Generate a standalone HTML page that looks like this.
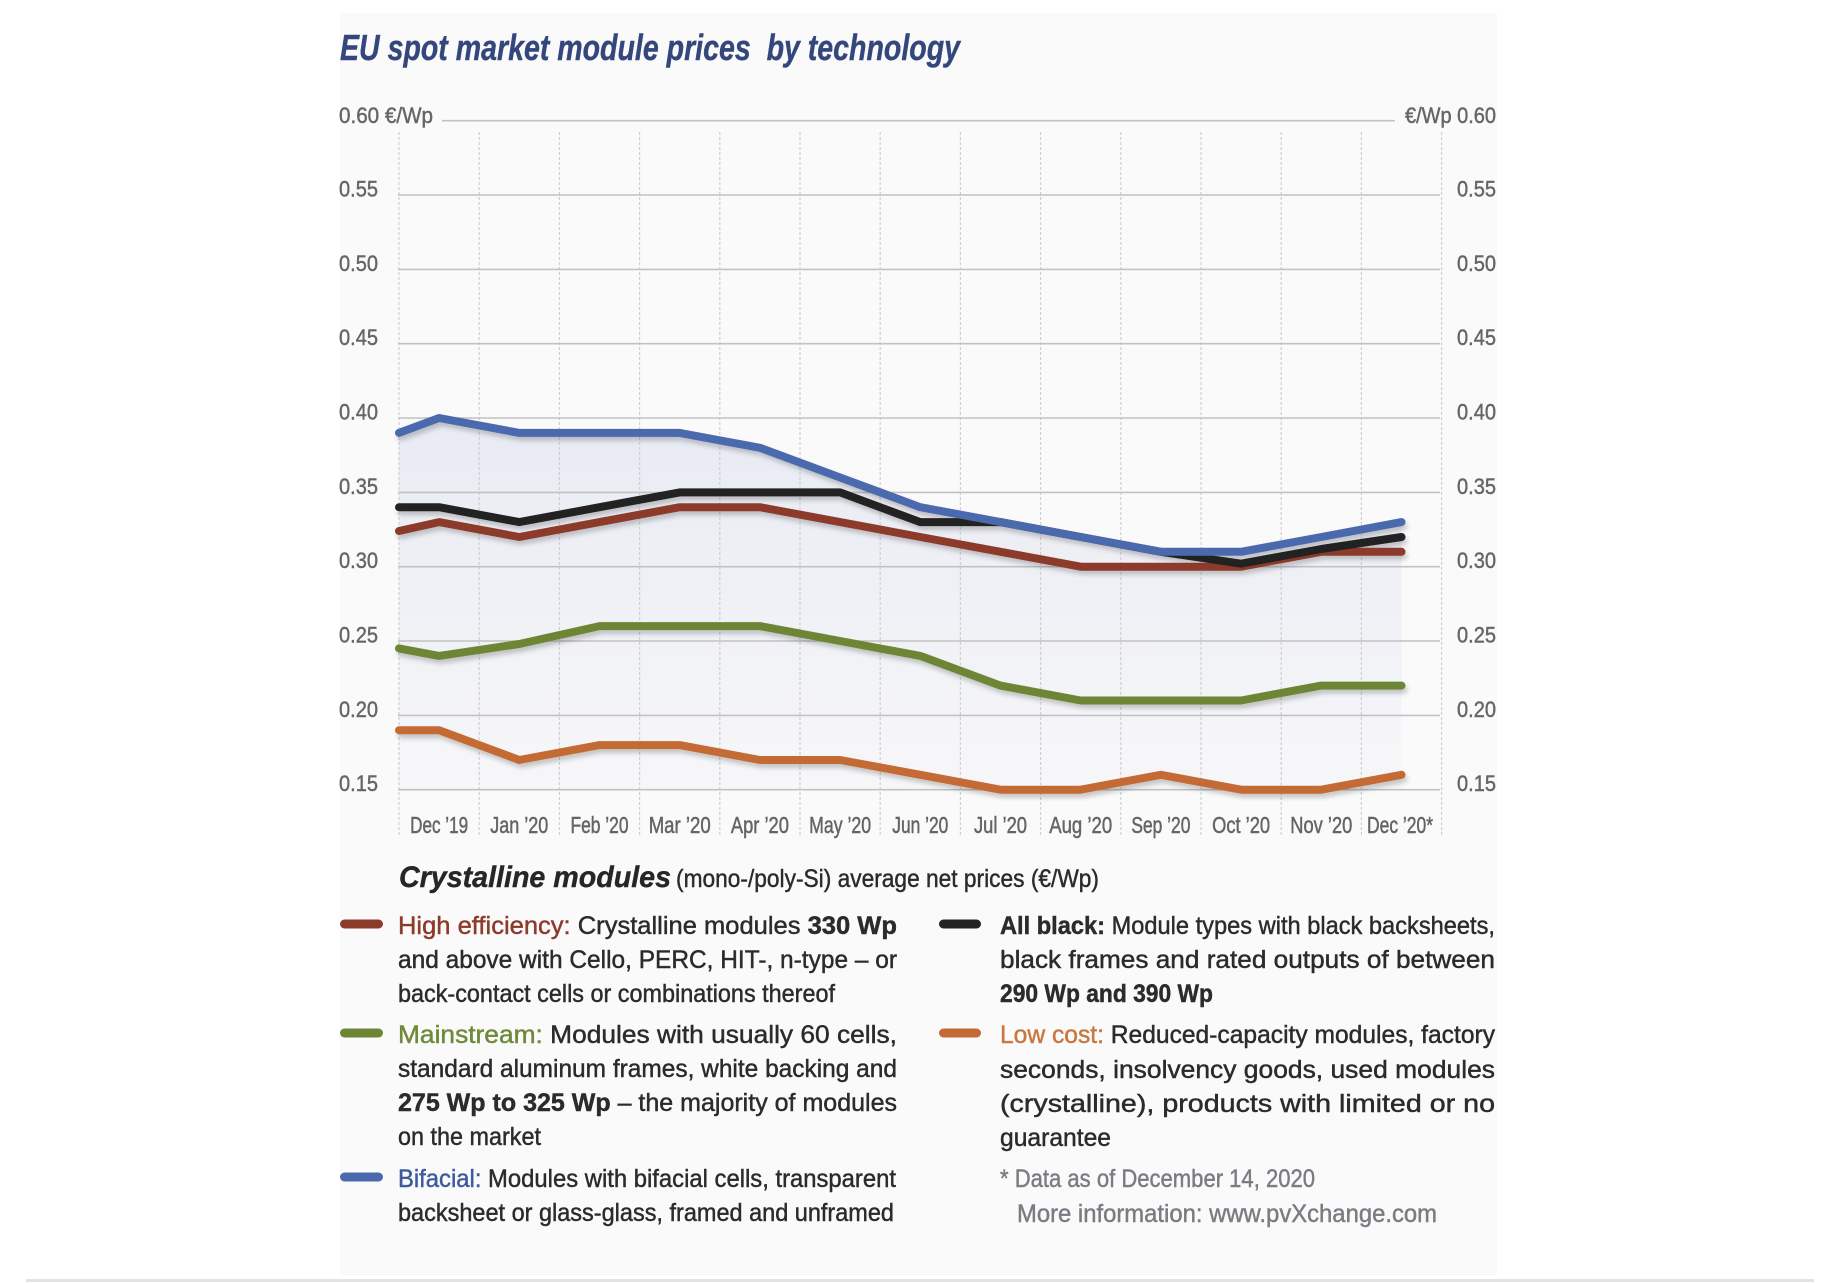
<!DOCTYPE html>
<html>
<head>
<meta charset="utf-8">
<style>
html,body{margin:0;padding:0;background:#fff;}
svg{display:block;}
text{font-family:"Liberation Sans",Arial,sans-serif;}
</style>
</head>
<body>
<svg width="1840" height="1284" viewBox="0 0 1840 1284" xmlns="http://www.w3.org/2000/svg">
<defs>
  <linearGradient id="fg" x1="0" y1="418" x2="0" y2="790" gradientUnits="userSpaceOnUse">
    <stop offset="0" stop-color="#e8ebf3"/>
    <stop offset="1" stop-color="#f7f7f9"/>
  </linearGradient>
  <filter id="sh" x="-5%" y="-60%" width="110%" height="220%">
    <feDropShadow dx="2" dy="4" stdDeviation="2.5" flood-color="#000" flood-opacity="0.2"/>
  </filter>
</defs>

<!-- panel -->
<rect x="340" y="13" width="1157" height="1262" fill="#fafafa"/>

<!-- title -->
<text x="340" y="60" font-size="36" font-weight="bold" font-style="italic" fill="#34477d" stroke="#34477d" stroke-width="0.4" textLength="620" lengthAdjust="spacingAndGlyphs">EU spot market module prices&#160; by technology</text>

<!-- area fill under bifacial -->
<polygon fill="url(#fg)" points="399,432.9 439.1,418 519.3,432.9 599.5,432.9 679.7,432.9 759.9,447.8 840.1,477.5 920.3,507.2 1000.5,522.1 1080.7,537 1160.9,551.8 1241.1,551.8 1321.3,537 1401.5,522.1 1401.5,789.7 399,789.7"/>

<!-- vertical dashed grid -->
<g stroke="#cfcfcf" stroke-width="1.2" stroke-dasharray="3 2">
  <line x1="399" y1="132" x2="399" y2="836"/>
  <line x1="479.2" y1="132" x2="479.2" y2="836"/>
  <line x1="559.4" y1="132" x2="559.4" y2="836"/>
  <line x1="639.6" y1="132" x2="639.6" y2="836"/>
  <line x1="719.8" y1="132" x2="719.8" y2="836"/>
  <line x1="800" y1="132" x2="800" y2="836"/>
  <line x1="880.2" y1="132" x2="880.2" y2="836"/>
  <line x1="960.4" y1="132" x2="960.4" y2="836"/>
  <line x1="1040.6" y1="132" x2="1040.6" y2="836"/>
  <line x1="1120.8" y1="132" x2="1120.8" y2="836"/>
  <line x1="1201" y1="132" x2="1201" y2="836"/>
  <line x1="1281.2" y1="132" x2="1281.2" y2="836"/>
  <line x1="1361.4" y1="132" x2="1361.4" y2="836"/>
  <line x1="1441.6" y1="132" x2="1441.6" y2="836"/>
</g>

<!-- horizontal grid -->
<g stroke="#c2c2c2" stroke-width="1.6">
  <line x1="442" y1="120.7" x2="1395" y2="120.7"/>
  <line x1="398" y1="195" x2="1440" y2="195"/>
  <line x1="398" y1="269.4" x2="1440" y2="269.4"/>
  <line x1="398" y1="343.7" x2="1440" y2="343.7"/>
  <line x1="398" y1="418" x2="1440" y2="418"/>
  <line x1="398" y1="492.4" x2="1440" y2="492.4"/>
  <line x1="398" y1="566.7" x2="1440" y2="566.7"/>
  <line x1="398" y1="641" x2="1440" y2="641"/>
  <line x1="398" y1="715.4" x2="1440" y2="715.4"/>
  <line x1="398" y1="789.7" x2="1440" y2="789.7"/>
</g>

<!-- y labels left -->
<g font-size="22" fill="#666" stroke="#666" stroke-width="0.45">
  <text x="339" y="123" textLength="94" lengthAdjust="spacingAndGlyphs">0.60 €/Wp</text>
  <text x="339" y="196.5" textLength="39" lengthAdjust="spacingAndGlyphs">0.55</text>
  <text x="339" y="270.9" textLength="39" lengthAdjust="spacingAndGlyphs">0.50</text>
  <text x="339" y="345.2" textLength="39" lengthAdjust="spacingAndGlyphs">0.45</text>
  <text x="339" y="419.5" textLength="39" lengthAdjust="spacingAndGlyphs">0.40</text>
  <text x="339" y="493.9" textLength="39" lengthAdjust="spacingAndGlyphs">0.35</text>
  <text x="339" y="568.2" textLength="39" lengthAdjust="spacingAndGlyphs">0.30</text>
  <text x="339" y="642.5" textLength="39" lengthAdjust="spacingAndGlyphs">0.25</text>
  <text x="339" y="716.9" textLength="39" lengthAdjust="spacingAndGlyphs">0.20</text>
  <text x="339" y="791.2" textLength="39" lengthAdjust="spacingAndGlyphs">0.15</text>
</g>
<!-- y labels right -->
<g font-size="22" fill="#666" stroke="#666" stroke-width="0.45">
  <text x="1405" y="123" textLength="91" lengthAdjust="spacingAndGlyphs">€/Wp 0.60</text>
  <text x="1457" y="196.5" textLength="39" lengthAdjust="spacingAndGlyphs">0.55</text>
  <text x="1457" y="270.9" textLength="39" lengthAdjust="spacingAndGlyphs">0.50</text>
  <text x="1457" y="345.2" textLength="39" lengthAdjust="spacingAndGlyphs">0.45</text>
  <text x="1457" y="419.5" textLength="39" lengthAdjust="spacingAndGlyphs">0.40</text>
  <text x="1457" y="493.9" textLength="39" lengthAdjust="spacingAndGlyphs">0.35</text>
  <text x="1457" y="568.2" textLength="39" lengthAdjust="spacingAndGlyphs">0.30</text>
  <text x="1457" y="642.5" textLength="39" lengthAdjust="spacingAndGlyphs">0.25</text>
  <text x="1457" y="716.9" textLength="39" lengthAdjust="spacingAndGlyphs">0.20</text>
  <text x="1457" y="791.2" textLength="39" lengthAdjust="spacingAndGlyphs">0.15</text>
</g>

<!-- x labels -->
<g font-size="23" fill="#656565" stroke="#656565" stroke-width="0.5">
  <text x="410.1" y="833" textLength="58" lengthAdjust="spacingAndGlyphs">Dec ’19</text>
  <text x="490.3" y="833" textLength="58" lengthAdjust="spacingAndGlyphs">Jan ’20</text>
  <text x="570.5" y="833" textLength="58" lengthAdjust="spacingAndGlyphs">Feb ’20</text>
  <text x="648.7" y="833" textLength="62" lengthAdjust="spacingAndGlyphs">Mar ’20</text>
  <text x="730.9" y="833" textLength="58" lengthAdjust="spacingAndGlyphs">Apr ’20</text>
  <text x="809.1" y="833" textLength="62" lengthAdjust="spacingAndGlyphs">May ’20</text>
  <text x="892.3" y="833" textLength="56" lengthAdjust="spacingAndGlyphs">Jun ’20</text>
  <text x="974" y="833" textLength="53" lengthAdjust="spacingAndGlyphs">Jul ’20</text>
  <text x="1049.2" y="833" textLength="63" lengthAdjust="spacingAndGlyphs">Aug ’20</text>
  <text x="1131.4" y="833" textLength="59" lengthAdjust="spacingAndGlyphs">Sep ’20</text>
  <text x="1212.1" y="833" textLength="58" lengthAdjust="spacingAndGlyphs">Oct ’20</text>
  <text x="1290.3" y="833" textLength="62" lengthAdjust="spacingAndGlyphs">Nov ’20</text>
  <text x="1367" y="833" textLength="66" lengthAdjust="spacingAndGlyphs">Dec ’20*</text>
</g>

<!-- series -->
<g fill="none" stroke-width="8" stroke-linejoin="round" stroke-linecap="round" filter="url(#sh)">
  <polyline stroke="#c46a35" points="399,730.2 439.1,730.2 519.3,760 599.5,745.1 679.7,745.1 759.9,760 840.1,760 920.3,774.8 1000.5,789.7 1080.7,789.7 1160.9,774.8 1241.1,789.7 1321.3,789.7 1401.5,774.8"/>
  <polyline stroke="#6c8635" points="399,648.4 439.1,655.9 519.3,644 599.5,626.1 679.7,626.1 759.9,626.1 840.1,641 920.3,655.9 1000.5,685.6 1080.7,700.5 1160.9,700.5 1241.1,700.5 1321.3,685.6 1401.5,685.6"/>
  <polyline stroke="#8c3b2b" points="399,531 439.1,522.1 519.3,537 599.5,522.1 679.7,507.2 759.9,507.2 840.1,522.1 920.3,537 1000.5,551.8 1080.7,566.7 1160.9,566.7 1241.1,566.7 1321.3,551.8 1401.5,551.8"/>
  <polyline stroke="#232323" points="399,507.2 439.1,507.2 519.3,522.1 599.5,507.2 679.7,492.4 759.9,492.4 840.1,492.4 920.3,522.1 1000.5,522.1 1080.7,537 1160.9,551.8 1241.1,563.7 1321.3,549 1401.5,537"/>
  <polyline stroke="#4c69ad" points="399,432.9 439.1,418 519.3,432.9 599.5,432.9 679.7,432.9 759.9,447.8 840.1,477.5 920.3,507.2 1000.5,522.1 1080.7,537 1160.9,551.8 1241.1,551.8 1321.3,537 1401.5,522.1"/>
</g>

<!-- legend header -->
<text x="399" y="887" font-size="30" font-weight="bold" font-style="italic" fill="#262626" stroke="#262626" stroke-width="0.4" textLength="272" lengthAdjust="spacingAndGlyphs">Crystalline modules</text>
<text x="676" y="887" font-size="25" fill="#2b2b2b" stroke="#2b2b2b" stroke-width="0.45" textLength="423" lengthAdjust="spacingAndGlyphs">(mono-/poly-Si) average net prices (€/Wp)</text>

<!-- legend swatches -->
<rect x="340" y="919.5" width="43" height="9" rx="4.5" fill="#8c3b2b"/>
<rect x="340" y="1028.5" width="43" height="9" rx="4.5" fill="#6c8635"/>
<rect x="340" y="1172.5" width="43" height="9" rx="4.5" fill="#4c69ad"/>
<rect x="939" y="919.5" width="42" height="9" rx="4.5" fill="#232323"/>
<rect x="939" y="1028.5" width="42" height="9" rx="4.5" fill="#c46a35"/>

<!-- legend left column -->
<g font-size="25" fill="#2b2b2b" stroke="#2b2b2b" stroke-width="0.45">
  <text x="398" y="934" textLength="499" lengthAdjust="spacingAndGlyphs"><tspan fill="#8c3b2b" stroke="#8c3b2b">High efficiency:</tspan> Crystalline modules <tspan font-weight="bold">330 Wp</tspan></text>
  <text x="398" y="968" textLength="499" lengthAdjust="spacingAndGlyphs">and above with Cello, PERC, HIT-, n-type – or</text>
  <text x="398" y="1002" textLength="437" lengthAdjust="spacingAndGlyphs">back-contact cells or combinations thereof</text>
  <text x="398" y="1043" textLength="499" lengthAdjust="spacingAndGlyphs"><tspan fill="#6f8a3a" stroke="#6f8a3a">Mainstream:</tspan> Modules with usually 60 cells,</text>
  <text x="398" y="1077" textLength="499" lengthAdjust="spacingAndGlyphs">standard aluminum frames, white backing and</text>
  <text x="398" y="1111" textLength="499" lengthAdjust="spacingAndGlyphs"><tspan font-weight="bold">275 Wp to 325 Wp</tspan> – the majority of modules</text>
  <text x="398" y="1145" textLength="143" lengthAdjust="spacingAndGlyphs">on the market</text>
  <text x="398" y="1187" textLength="498" lengthAdjust="spacingAndGlyphs"><tspan fill="#3e5a9e" stroke="#3e5a9e">Bifacial:</tspan> Modules with bifacial cells, transparent</text>
  <text x="398" y="1221" textLength="496" lengthAdjust="spacingAndGlyphs">backsheet or glass-glass, framed and unframed</text>
</g>

<!-- legend right column -->
<g font-size="25" fill="#2b2b2b" stroke="#2b2b2b" stroke-width="0.45">
  <text x="1000" y="934" textLength="495" lengthAdjust="spacingAndGlyphs"><tspan font-weight="bold">All black:</tspan> Module types with black backsheets,</text>
  <text x="1000" y="968" textLength="495" lengthAdjust="spacingAndGlyphs">black frames and rated outputs of between</text>
  <text x="1000" y="1002" font-weight="bold" textLength="213" lengthAdjust="spacingAndGlyphs">290 Wp and 390 Wp</text>
  <text x="1000" y="1043" textLength="495" lengthAdjust="spacingAndGlyphs"><tspan fill="#c8773f" stroke="#c8773f">Low cost:</tspan> Reduced-capacity modules, factory</text>
  <text x="1000" y="1078" textLength="495" lengthAdjust="spacingAndGlyphs">seconds, insolvency goods, used modules</text>
  <text x="1000" y="1112" textLength="495" lengthAdjust="spacingAndGlyphs">(crystalline), products with limited or no</text>
  <text x="1000" y="1146" textLength="111" lengthAdjust="spacingAndGlyphs">guarantee</text>
  <text x="1000" y="1187" fill="#7a7c82" stroke="#7a7c82" textLength="315" lengthAdjust="spacingAndGlyphs">* Data as of December 14, 2020</text>
  <text x="1017" y="1222" fill="#7a7c82" stroke="#7a7c82" textLength="420" lengthAdjust="spacingAndGlyphs">More information: www.pvXchange.com</text>
</g>

<!-- bottom rule -->
<rect x="26" y="1279" width="1788" height="3" fill="#dde5e9"/>
</svg>
</body>
</html>
